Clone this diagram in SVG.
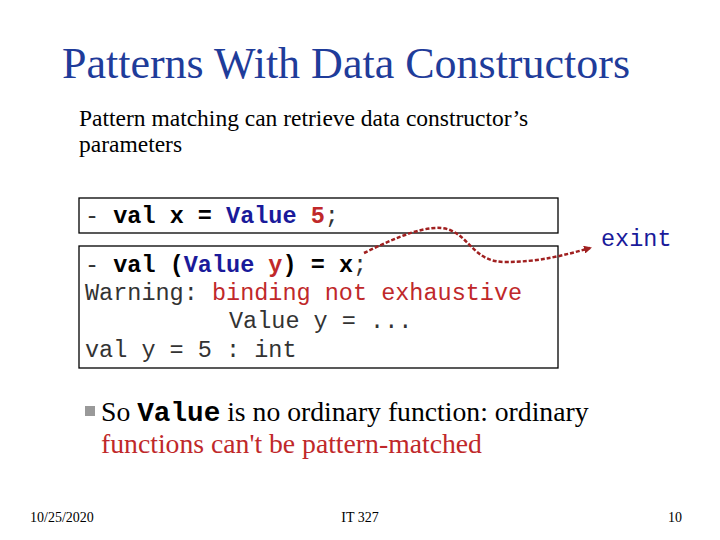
<svg xmlns="http://www.w3.org/2000/svg" width="720" height="540" viewBox="0 0 720 540">
<style>
.t{font-family:"Liberation Serif",serif}
.m{font-family:"Liberation Mono",monospace;font-size:23.5px;fill:#333}
.b{font-weight:bold;fill:#000}
.bl{fill:#1a1a9a}
.r{fill:#c0282a}
.box{fill:#fff;stroke:#000;stroke-width:1.3}
</style>
<defs>
<marker id="ah" markerWidth="8" markerHeight="8" refX="6" refY="4" orient="auto" markerUnits="userSpaceOnUse"><path d="M0,0 L8,4 L0,8 z" fill="#a02020"/></marker>
</defs>
<rect width="720" height="540" fill="#fff"/>
<text class="t" x="346" y="78" font-size="44" fill="#1f3c9a" text-anchor="middle">Patterns With Data Constructors</text>
<text class="t" x="79" y="126" font-size="23.5">Pattern matching can retrieve data constructor’s</text>
<text class="t" x="79" y="152" font-size="23.5">parameters</text>
<g id="box1"><rect class="box" x="79" y="198" width="479" height="35"/>
<text class="m" x="85" y="223">- <tspan class="b">val x = </tspan><tspan class="b bl">Value </tspan><tspan class="b r">5</tspan>;</text></g>
<g id="box2"><rect class="box" x="79" y="246" width="479" height="122"/>
<text class="m" x="85" y="272">- <tspan class="b">val (</tspan><tspan class="b bl">Value </tspan><tspan class="b r">y</tspan><tspan class="b">) = x</tspan>;</text>
<text class="m" x="85" y="300">Warning: <tspan class="r">binding not exhaustive</tspan></text>
<text class="m" x="229" y="328">Value y = ...</text>
<text class="m" x="85" y="357">val y = 5 : int</text></g>
<g id="exint"><text class="m" x="601" y="246" style="fill:#1a1a9a">exint</text></g>
<g id="connectors"><path d="M364,253 C395,238 430,222 450,230 C470,238 475,262 505,262 C540,262 565,255 590,248" fill="none" stroke="#a02020" stroke-width="2.5" stroke-dasharray="4,2" marker-end="url(#ah)"/></g>
<rect x="85" y="406" width="10" height="10" fill="#999"/>
<text class="t" x="101" y="421" font-size="27.7">So <tspan font-family="Liberation Mono,monospace" font-weight="bold">Value</tspan> is no ordinary function: ordinary</text>
<text class="t r" x="101" y="453" font-size="27.7">functions can't be pattern-matched</text>
<text class="t" x="30" y="522" font-size="14">10/25/2020</text>
<text class="t" x="360" y="522" font-size="14" text-anchor="middle">IT 327</text>
<text class="t" x="682" y="522" font-size="14" text-anchor="end">10</text>
</svg>
